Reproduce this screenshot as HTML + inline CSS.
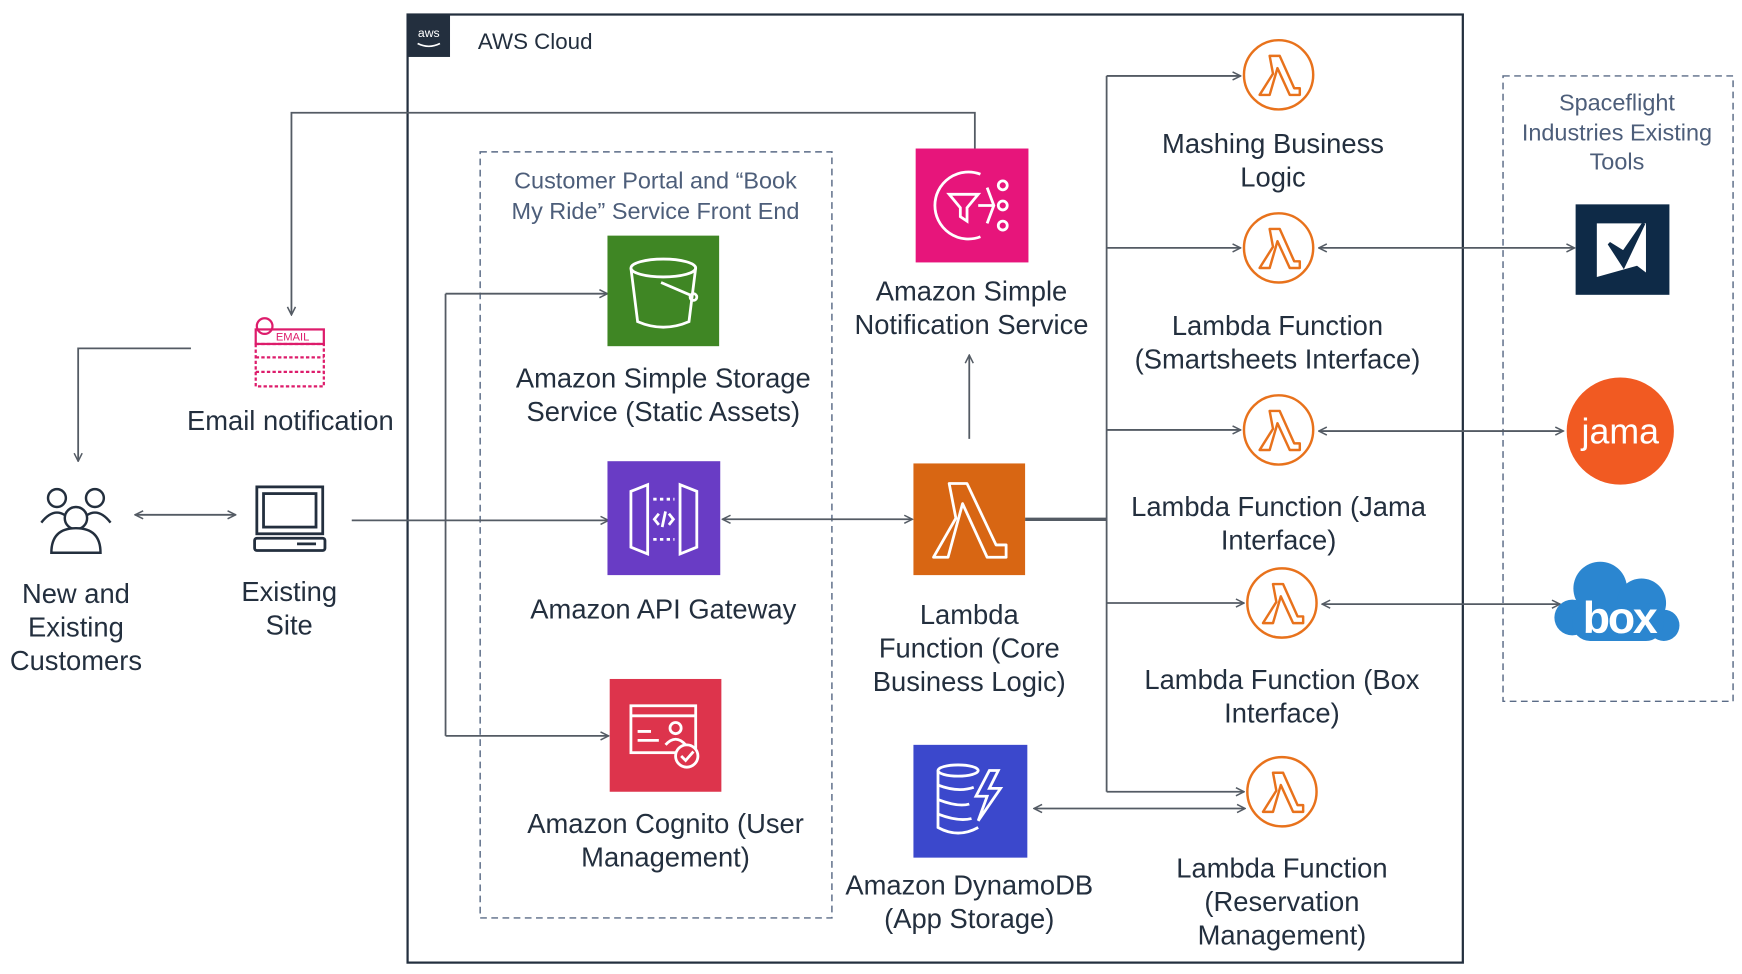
<!DOCTYPE html>
<html><head><meta charset="utf-8"><style>
html,body{margin:0;padding:0;background:#fff;}
svg{display:block;}
text{font-family:"Liberation Sans",Arial,sans-serif;fill:#232f3e;}
</style></head><body>
<svg width="1742" height="974" viewBox="0 0 1560 872.2" preserveAspectRatio="none" xmlns="http://www.w3.org/2000/svg">
<defs>
<marker id="a" viewBox="0 0 10 10" refX="9" refY="5" markerWidth="9" markerHeight="9" orient="auto-start-reverse" markerUnits="userSpaceOnUse">
<path d="M1,1 L9,5 L1,9" fill="none" stroke="#545b64" stroke-width="1.5"/></marker>
</defs>
<!-- AWS Cloud -->
<rect x="365" y="13" width="945" height="849" fill="none" stroke="#232f3e" stroke-width="2"/>
<rect x="365" y="13" width="38" height="38" fill="#232f3e"/>
<text x="384" y="33" font-size="11" text-anchor="middle" style="fill:#fff">aws</text>
<path d="M374,39 q10,5 20,0" stroke="#fff" fill="none" stroke-width="1.5"/>
<text x="428" y="44" font-size="20">AWS Cloud</text>
<!-- dashed groups -->
<rect x="430" y="136" width="315" height="686" fill="none" stroke="#5a6b86" stroke-width="1.3" stroke-dasharray="6,4"/>
<text x="587" y="169" font-size="21" text-anchor="middle" style="fill:#4d5e7a">Customer Portal and “Book</text>
<text x="587" y="196" font-size="21" text-anchor="middle" style="fill:#4d5e7a">My Ride” Service Front End</text>
<rect x="1346" y="68" width="206" height="560" fill="none" stroke="#5a6b86" stroke-width="1.3" stroke-dasharray="6,4"/>
<text x="1448" y="99" font-size="21" text-anchor="middle" style="fill:#4d5e7a">Spaceflight</text>
<text x="1448" y="126" font-size="21" text-anchor="middle" style="fill:#4d5e7a">Industries Existing</text>
<text x="1448" y="152" font-size="21" text-anchor="middle" style="fill:#4d5e7a">Tools</text>
<!-- connectors -->
<g stroke="#545b64" stroke-width="1.6" fill="none">
<path d="M873,133 V101 H261 V282" marker-end="url(#a)"/>
<path d="M171,312 H70 V413" marker-end="url(#a)"/>
<path d="M121,461 H211" marker-start="url(#a)" marker-end="url(#a)"/>
<path d="M315,466 H545" marker-end="url(#a)"/>
<path d="M399,263 V659"/>
<path d="M399,263 H544" marker-end="url(#a)"/>
<path d="M399,659 H545" marker-end="url(#a)"/>
<path d="M647,465 H817" marker-start="url(#a)" marker-end="url(#a)"/>
<path d="M868,393 V318" marker-end="url(#a)"/>
<path d="M918,465 H991" stroke-width="3"/>
<path d="M991,68 V709"/>
<path d="M991,68 H1111" marker-end="url(#a)"/>
<path d="M991,222 H1111" marker-end="url(#a)"/>
<path d="M991,385 H1111" marker-end="url(#a)"/>
<path d="M991,540 H1114" marker-end="url(#a)"/>
<path d="M991,709 H1114" marker-end="url(#a)"/>
<path d="M1181,222 H1410" marker-start="url(#a)" marker-end="url(#a)"/>
<path d="M1181,386 H1400" marker-start="url(#a)" marker-end="url(#a)"/>
<path d="M1184,541 H1397" marker-start="url(#a)" marker-end="url(#a)"/>
<path d="M926,724 H1115" marker-start="url(#a)" marker-end="url(#a)"/>
</g>
<!-- S3 -->
<rect x="544" y="211" width="100" height="99" fill="#3f8624"/>
<g stroke="#fff" stroke-width="2.5" fill="none"><ellipse cx="594" cy="240" rx="29" ry="8"/><path d="M565,240 L571,288 Q594,298 617,288 L623,240"/><path d="M592,253 L620,265"/><circle cx="621" cy="266" r="3"/></g>
<g font-size="24.5" text-anchor="middle">
<text x="594" y="347">Amazon Simple Storage</text>
<text x="594" y="377">Service (Static Assets)</text>
</g>
<!-- API GW -->
<rect x="544" y="413" width="101" height="102" fill="#693cc5"/>
<g stroke="#fff" stroke-width="2.5" fill="none"><path d="M565,440 L580,434 V496 L565,490 Z"/><path d="M624,440 L609,434 V496 L624,490 Z"/><path d="M585,447 H604 M585,483 H604" stroke-dasharray="3,3"/><path d="M590,460 l-4,5 4,5 M599,460 l4,5 -4,5 M596,458 l-3,14"/></g>
<text x="594" y="554" font-size="24.5" text-anchor="middle">Amazon API Gateway</text>
<!-- Cognito -->
<rect x="546" y="608" width="100" height="101" fill="#dd344c"/>
<g stroke="#fff" stroke-width="2.5" fill="none"><rect x="565" y="632" width="58" height="42"/><path d="M565,641 H623"/><path d="M571,655 H583 M571,663 H590"/><circle cx="605" cy="652" r="5"/><path d="M596,667 q9,-10 18,0"/><circle cx="615" cy="677" r="10" fill="#dd344c"/><path d="M610,677 l4,4 7,-8"/></g>
<g font-size="24.5" text-anchor="middle">
<text x="596" y="746">Amazon Cognito (User</text>
<text x="596" y="776">Management)</text>
</g>
<!-- SNS -->
<rect x="820" y="133" width="101" height="102" fill="#e7157b"/>
<g stroke="#fff" stroke-width="2.5" fill="none"><path d="M878,156 A30,30 0 1 0 878,212"/><path d="M850,174 H876 L866,186 V198 L860,194 V186 Z"/><path d="M876,184 H890 M884,168 L890,184 L884,200"/><circle cx="898" cy="166" r="4"/><circle cx="898" cy="184" r="4"/><circle cx="898" cy="202" r="4"/></g>
<g font-size="24.5" text-anchor="middle">
<text x="870" y="269">Amazon Simple</text>
<text x="870" y="299">Notification Service</text>
</g>
<!-- Lambda core -->
<rect x="818" y="415" width="100" height="100" fill="#d86613"/>
<path d="M850,433 H866 L892,488 H901 V499 H884 L862,451 L849,499 H836 L856,464 Z" stroke="#fff" stroke-width="2.5" fill="none" stroke-linejoin="round"/>
<g font-size="24.5" text-anchor="middle">
<text x="868" y="559">Lambda</text>
<text x="868" y="589">Function (Core</text>
<text x="868" y="619">Business Logic)</text>
</g>
<!-- DynamoDB -->
<rect x="818" y="667" width="102" height="101" fill="#3b48cc"/>
<g stroke="#fff" stroke-width="2.5" fill="none"><ellipse cx="858" cy="690" rx="18" ry="5"/><path d="M840,690 V741 Q858,751 876,741"/><path d="M840,703 Q858,710 872,705 M840,716 Q858,723 868,720 M840,729 Q858,736 870,733"/><path d="M886,690 L874,713 H884 L876,735 L896,706 H886 L894,690 Z"/></g>
<g font-size="24.5" text-anchor="middle">
<text x="868" y="801">Amazon DynamoDB</text>
<text x="868" y="831">(App Storage)</text>
</g>
<!-- Lambda circles -->
<g stroke="#e8721c" stroke-width="2.2" fill="#fff">
<circle cx="1145" cy="67" r="31"/><circle cx="1145" cy="222" r="31"/><circle cx="1145" cy="385" r="31"/><circle cx="1148" cy="540" r="31"/><circle cx="1148" cy="709" r="31"/></g>
<g stroke="#e8721c" stroke-width="2.2" fill="none" stroke-linejoin="round">
<path d="M1137,50 H1146 L1159,79 H1164 V85 H1155 L1144,61 L1137,85 H1128 L1140,66 Z"/>
<path d="M1137,205 H1146 L1159,234 H1164 V240 H1155 L1144,216 L1137,240 H1128 L1140,221 Z"/>
<path d="M1137,368 H1146 L1159,397 H1164 V403 H1155 L1144,379 L1137,403 H1128 L1140,384 Z"/>
<path d="M1140,523 H1149 L1162,552 H1167 V558 H1158 L1147,534 L1140,558 H1131 L1143,539 Z"/>
<path d="M1140,692 H1149 L1162,721 H1167 V727 H1158 L1147,703 L1140,727 H1131 L1143,708 Z"/>
</g>
<g font-size="24.5" text-anchor="middle">
<text x="1140" y="137">Mashing Business</text><text x="1140" y="167">Logic</text>
<text x="1144" y="300">Lambda Function</text><text x="1144" y="330">(Smartsheets Interface)</text>
<text x="1145" y="462">Lambda Function (Jama</text><text x="1145" y="492">Interface)</text>
<text x="1148" y="617">Lambda Function (Box</text><text x="1148" y="647">Interface)</text>
<text x="1148" y="786">Lambda Function</text><text x="1148" y="816">(Reservation</text><text x="1148" y="846">Management)</text>
</g>
<!-- Smartsheet -->
<rect x="1411" y="183" width="84" height="81" fill="#0e2a47"/>
<path d="M1430,200 H1474 V244 L1466,238 L1430,248 Z" fill="#fff"/>
<path d="M1441,218 L1454,238 L1472,200 L1454,226 Z" fill="#0e2a47" stroke="#0e2a47" stroke-width="3"/>
<!-- jama -->
<circle cx="1451" cy="386" r="48" fill="#f15a22"/>
<text x="1451" y="397" font-size="32" text-anchor="middle" style="fill:#fff">jama</text>
<!-- box -->
<g fill="#2b86d0"><circle cx="1433" cy="527" r="24"/><circle cx="1408" cy="553" r="16"/><circle cx="1470" cy="540" r="22"/><circle cx="1490" cy="560" r="14"/><rect x="1408" y="540" width="82" height="34" rx="16"/></g>
<text x="1450" y="567" font-size="40" text-anchor="middle" style="fill:#fff;font-weight:bold" letter-spacing="-2">box</text>
<!-- Email -->
<g stroke="#dd1c6b" stroke-width="2" fill="none"><circle cx="237" cy="292" r="7"/><rect x="229" y="295" width="61" height="13"/><rect x="229" y="308" width="61" height="38" stroke-dasharray="3,2"/><path d="M229,320 H290 M229,333 H290" stroke-dasharray="3,2"/></g>
<text x="262" y="305" font-size="10" text-anchor="middle" style="fill:#dd1c6b">EMAIL</text>
<text x="260" y="385" font-size="24.5" text-anchor="middle">Email notification</text>
<!-- People -->
<g stroke="#232f3e" stroke-width="2.2" fill="#fff"><circle cx="51" cy="446" r="8"/><circle cx="85" cy="446" r="8"/><path d="M37,468 q14,-18 28,0 M71,468 q14,-18 28,0"/><circle cx="68" cy="464" r="10"/><path d="M46,495 q0,-22 22,-22 q22,0 22,22 Z"/></g>
<g font-size="24.5" text-anchor="middle">
<text x="68" y="540">New and</text>
<text x="68" y="570">Existing</text>
<text x="68" y="600">Customers</text>
</g>
<!-- Laptop -->
<g stroke="#232f3e" stroke-width="2.5" fill="none"><rect x="230" y="436" width="59" height="42"/><rect x="236" y="442" width="47" height="30"/><rect x="228" y="482" width="63" height="11" rx="2"/><path d="M266,487 H283"/></g>
<g font-size="24.5" text-anchor="middle">
<text x="259" y="538">Existing</text>
<text x="259" y="568">Site</text>
</g>
</svg>
</body></html>
